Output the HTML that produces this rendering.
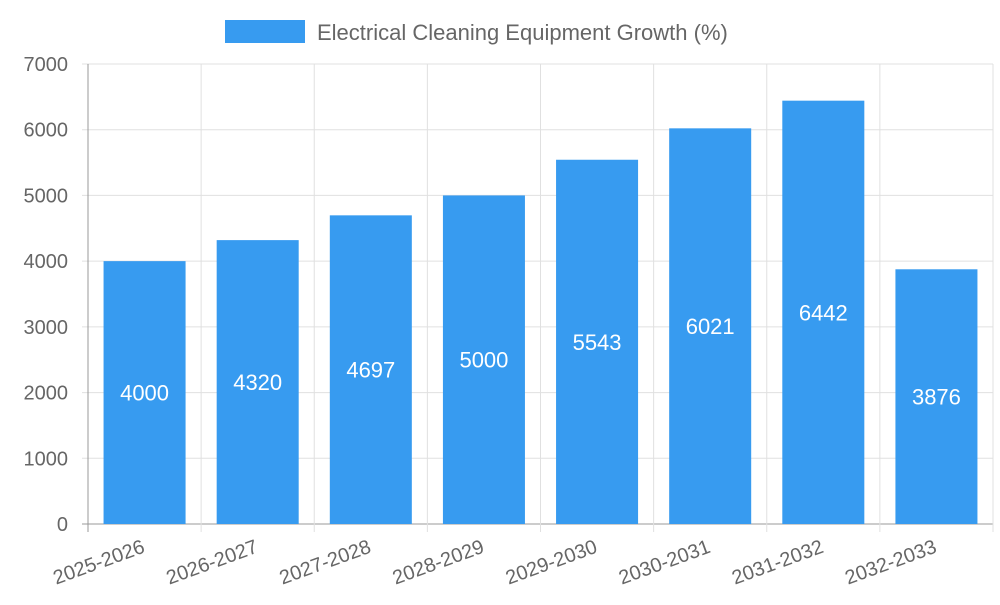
<!DOCTYPE html>
<html><head><meta charset="utf-8"><style>
body{margin:0;background:#fff;}
svg text{font-family:"Liberation Sans",sans-serif;}
</style></head><body>
<svg id="chart" width="1000" height="600" xmlns="http://www.w3.org/2000/svg">
<g id="legend">
<rect x="225" y="20" width="80" height="23" fill="#379bf0"/>
<text x="317" y="40" font-size="22" fill="#666">Electrical Cleaning Equipment Growth (%)</text>
</g>
<g id="grid"></g><g id="bars"></g><g id="axes"></g>
</svg>
<script>
const categories=["2025-2026","2026-2027","2027-2028","2028-2029","2029-2030","2030-2031","2031-2032","2032-2033"];
const values=[4000,4320,4697,5000,5543,6021,6442,3876];
const yTicks=[0,1000,2000,3000,4000,5000,6000,7000];
const L=88,R=993,T=64,B=524,yMax=7000;
const ns="http://www.w3.org/2000/svg";
const band=(R-L)/categories.length;
const x=i=>L+band*i;
const y=v=>B-(B-T)*v/yMax;
function mk(tag,attrs,parent,txt){const e=document.createElementNS(ns,tag);for(const k in attrs)e.setAttribute(k,attrs[k]);if(txt!==undefined)e.textContent=txt;document.getElementById(parent).appendChild(e);return e;}
yTicks.forEach(t=>{
 const g=mk('line',{x1:L-6,x2:R,y1:y(t),y2:y(t),stroke:t===0?'#999':'#e0e0e0','stroke-width':1},'grid');
 
 
 const l=mk('text',{x:L-20,y:y(t)+7,'font-size':20,fill:'#666','text-anchor':'end'},'axes',t);
 
 
});
for(let i=0;i<=categories.length;i++){
 const g=mk('line',{x1:x(i),x2:x(i),y1:T,y2:B+8,stroke:i===0?'#999':'#e0e0e0','stroke-width':1},'grid');
 
 
}
categories.forEach((c,i)=>{
 const bw=band*0.725, cx=x(i)+band/2;
 const r=mk('rect',{x:cx-bw/2,y:y(values[i]),width:bw,height:B-y(values[i]),fill:'#379bf0'},'bars');
 
 
 const v=mk('text',{x:cx,y:(y(values[i])+B)/2+8,'font-size':22,fill:'#fff','text-anchor':'middle'},'bars',values[i]);
 
 
 const tx=x(i)+58, ty=B+28;
 const l=mk('text',{x:tx,y:ty,'font-size':20,fill:'#666','text-anchor':'end',transform:`rotate(-20 ${tx} ${ty})`},'axes',c);
 
 
});
</script>
</body></html>
